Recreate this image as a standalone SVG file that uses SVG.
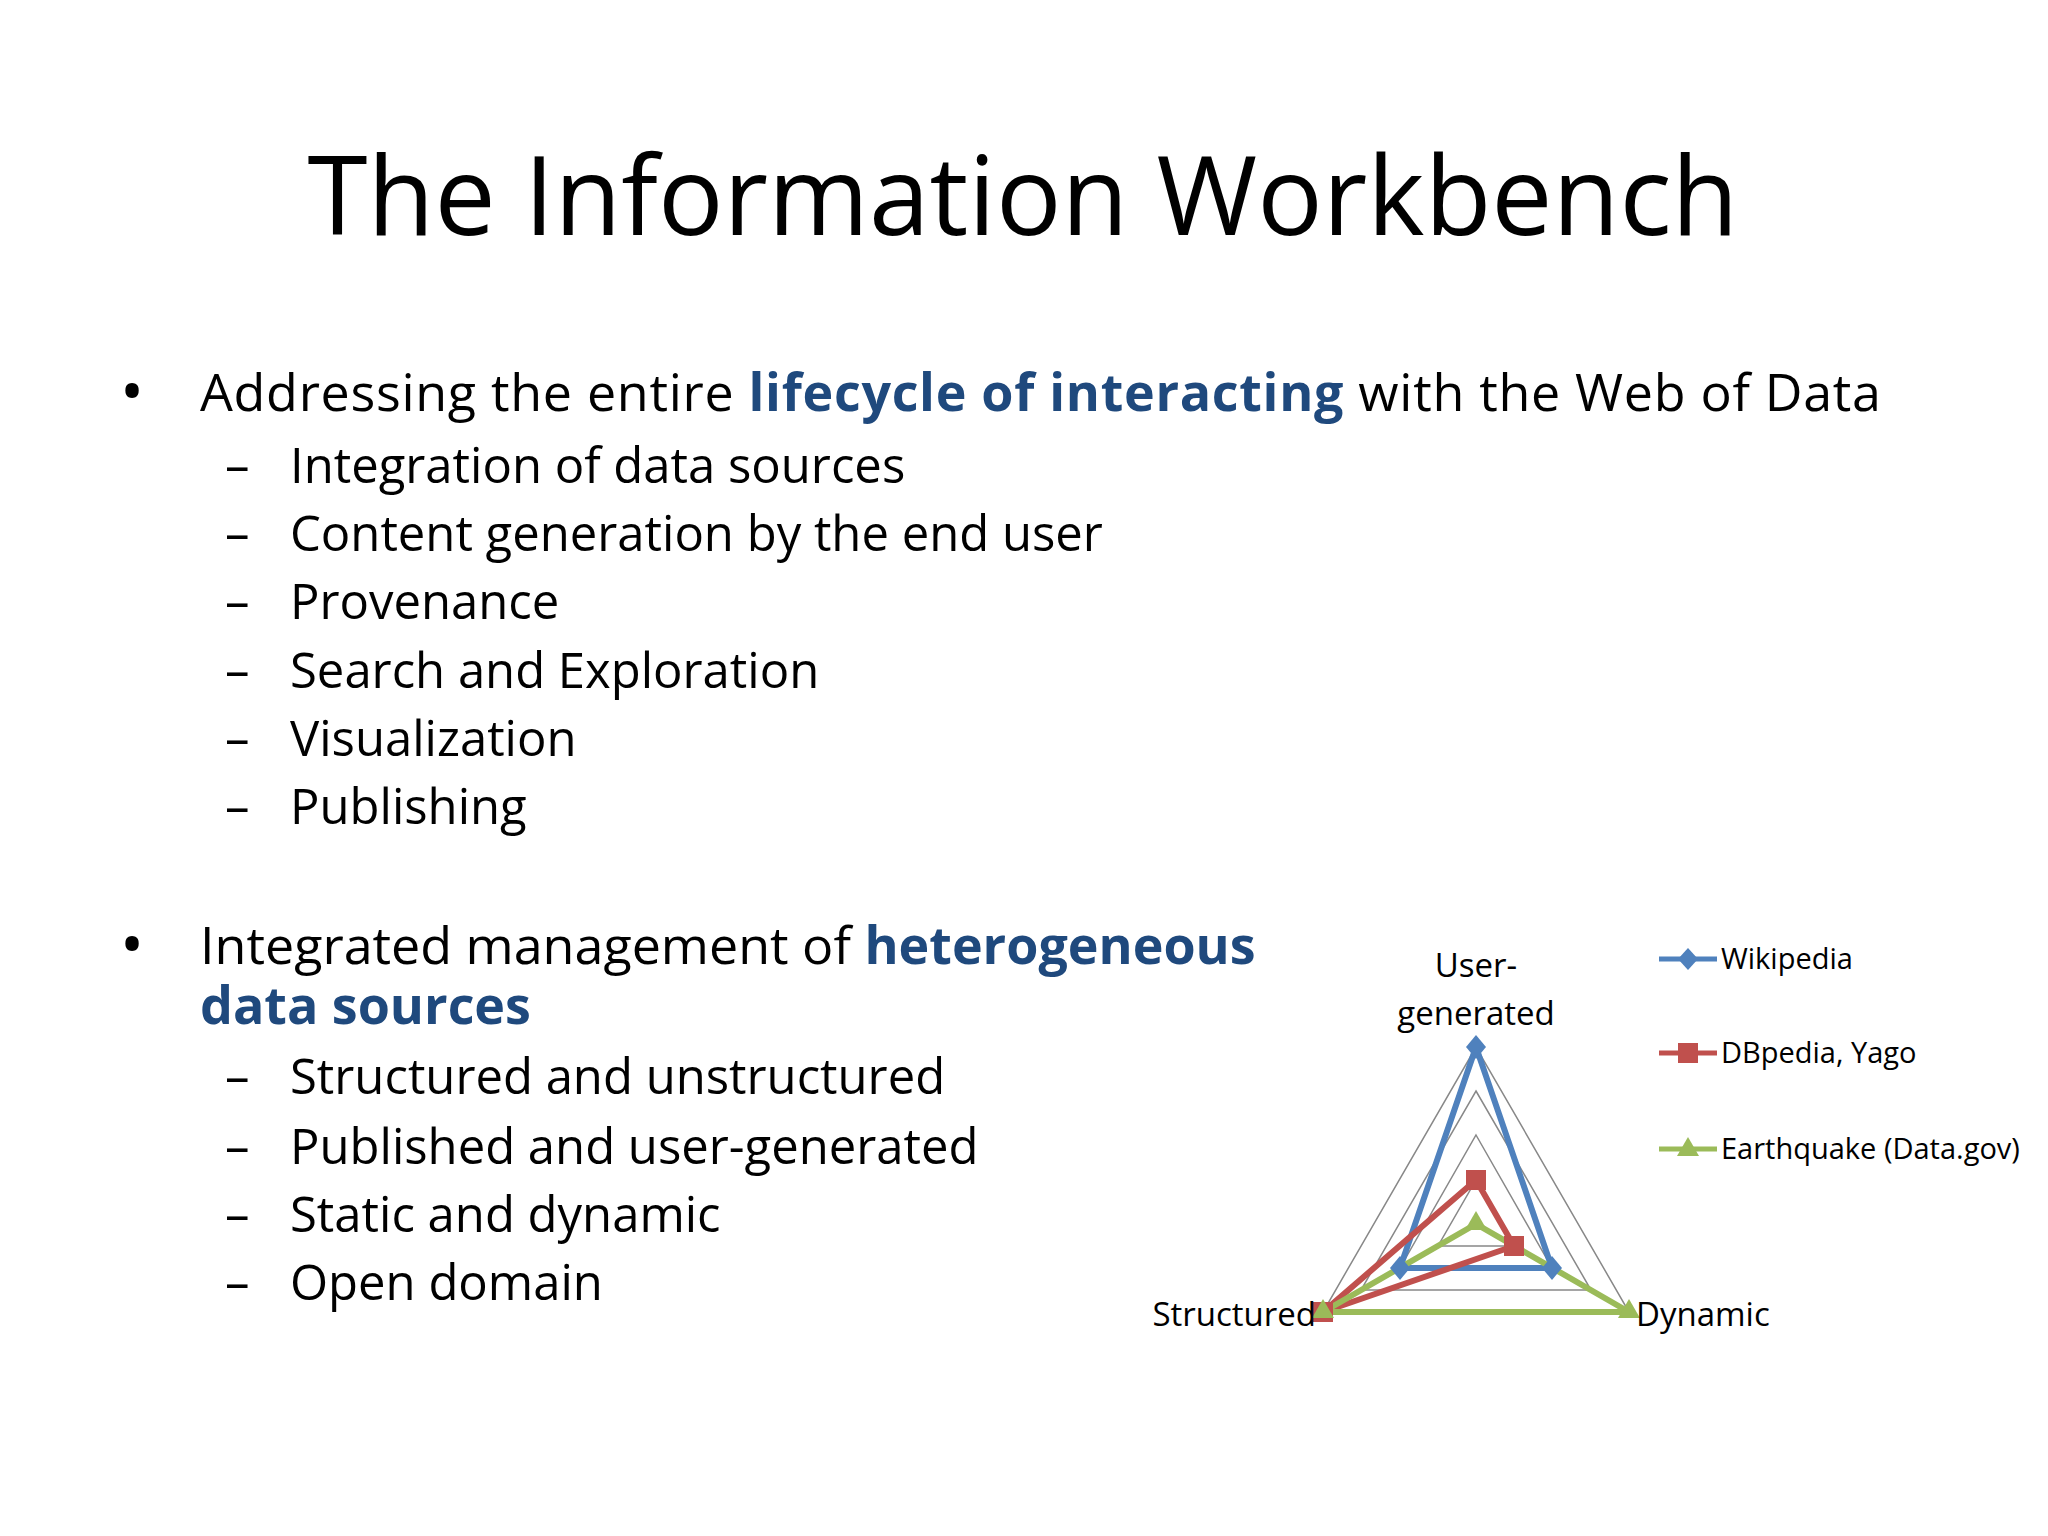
<svg xmlns="http://www.w3.org/2000/svg" width="2048" height="1536" viewBox="0 0 2048 1536">
<style>
text{font-family:"Open Sans","Liberation Sans",sans-serif;fill:#000}
.b1{font-size:52px}.b2{font-size:49px}.hl{fill:#1F497D;font-weight:bold}
.dot{font-size:64px}
.ax{font-size:33px}.lg{font-size:29px}
.grid{fill:none;stroke:#888;stroke-width:1.5}
</style>
<rect width="2048" height="1536" fill="#fff"/>
<text x="1023" y="235" text-anchor="middle" font-size="109">The Information Workbench</text>
<g id="bullets">
<text class="dot" x="120" y="414">•</text>
<text class="b1" x="200" y="411" textLength="1681">Addressing the entire <tspan class="hl">lifecycle of interacting</tspan> with the Web of Data</text>
<text class="b2" x="225" y="483">–</text><text class="b2" x="290" y="483">Integration of data sources</text>
<text class="b2" x="225" y="551">–</text><text class="b2" x="290" y="551">Content generation by the end user</text>
<text class="b2" x="225" y="619">–</text><text class="b2" x="290" y="619">Provenance</text>
<text class="b2" x="225" y="688">–</text><text class="b2" x="290" y="688">Search and Exploration</text>
<text class="b2" x="225" y="756">–</text><text class="b2" x="290" y="756">Visualization</text>
<text class="b2" x="225" y="824">–</text><text class="b2" x="290" y="824">Publishing</text>
<text class="dot" x="120" y="967">•</text>
<text class="b1" x="200" y="964">Integrated management of <tspan class="hl">heterogeneous</tspan></text>
<text class="b1 hl" x="200" y="1024">data sources</text>
<text class="b2" x="225" y="1094">–</text><text class="b2" x="290" y="1094">Structured and unstructured</text>
<text class="b2" x="225" y="1164">–</text><text class="b2" x="290" y="1164">Published and user-generated</text>
<text class="b2" x="225" y="1232">–</text><text class="b2" x="290" y="1232">Static and dynamic</text>
<text class="b2" x="225" y="1300">–</text><text class="b2" x="290" y="1300">Open domain</text>
</g>
<g id="chart">
<polygon class="grid" points="1476,1047 1629,1312 1323,1312"/>
<polygon class="grid" points="1476,1091 1591,1290 1361,1290"/>
<polygon class="grid" points="1476,1135 1552,1268 1400,1268"/>
<polygon class="grid" points="1476,1180 1514,1246 1438,1246"/>
<polygon points="1476,1047 1552,1268 1400,1268" fill="none" stroke="#4F81BD" stroke-width="6" stroke-linejoin="round"/>
<polygon points="1476,1180 1514,1246 1323,1312" fill="none" stroke="#C0504D" stroke-width="6" stroke-linejoin="round"/>
<polygon points="1476,1224 1629,1312 1323,1312" fill="none" stroke="#9BBB59" stroke-width="6" stroke-linejoin="round"/>
<g fill="#4F81BD"><path d="M1476,1035 l10,12 -10,12 -10,-12z"/><path d="M1552,1256 l10,12 -10,12 -10,-12z"/><path d="M1400,1256 l10,12 -10,12 -10,-12z"/></g>
<g fill="#C0504D"><rect x="1466" y="1170" width="20" height="20"/><rect x="1504" y="1236" width="20" height="20"/><rect x="1313" y="1302" width="20" height="20"/></g>
<g fill="#9BBB59"><path d="M1476,1211 l11,19 h-22z"/><path d="M1629,1299 l11,19 h-22z"/><path d="M1323,1299 l11,19 h-22z"/></g>
<text class="ax" x="1476" y="977" text-anchor="middle">User-</text>
<text class="ax" x="1476" y="1025" text-anchor="middle">generated</text>
<text class="ax" x="1316" y="1326" text-anchor="end">Structured</text>
<text class="ax" x="1636" y="1326">Dynamic</text>
</g>
<g id="legend">
<line x1="1659" y1="959" x2="1717" y2="959" stroke="#4F81BD" stroke-width="5"/><path d="M1688,948 l10,11 -10,11 -10,-11z" fill="#4F81BD"/>
<text class="lg" x="1721" y="969">Wikipedia</text>
<line x1="1659" y1="1053" x2="1717" y2="1053" stroke="#C0504D" stroke-width="5"/><rect x="1678" y="1043" width="20" height="20" fill="#C0504D"/>
<text class="lg" x="1721" y="1063">DBpedia, Yago</text>
<line x1="1659" y1="1149" x2="1717" y2="1149" stroke="#9BBB59" stroke-width="5"/><path d="M1688,1137 l11,19 h-22z" fill="#9BBB59"/>
<text class="lg" x="1721" y="1159">Earthquake (Data.gov)</text>
</g>
</svg>
